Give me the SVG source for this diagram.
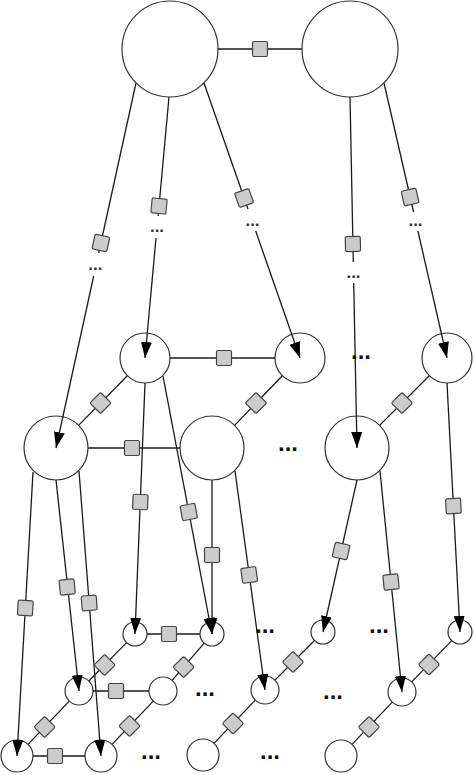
<svg xmlns="http://www.w3.org/2000/svg" xmlns:xlink="http://www.w3.org/1999/xlink" width="474" height="775" viewBox="0 0 474 775">
<style>
.n{fill:#fff;stroke:#333;stroke-width:1.2}
.e{fill:none;stroke:#1a1a1a;stroke-width:1.3}
.a{fill:none;stroke:#1a1a1a;stroke-width:1.3;marker-end:url(#arr)}
.sq{fill:#cbcbcb;stroke:#444;stroke-width:1.2}
.d{font-family:"Liberation Sans",Arial,sans-serif;font-size:24px;font-weight:bold;text-anchor:middle;fill:#111}
.ds{font-family:"Liberation Sans",Arial,sans-serif;font-size:17px;font-weight:bold;text-anchor:middle;fill:#333}
</style>
<defs>
<marker id="arr" markerUnits="userSpaceOnUse" markerWidth="16" markerHeight="12" refX="16" refY="5.5" orient="auto" viewBox="0 0 16 11"><path d="M0,0 L16,5.5 L0,11 z" fill="#000"/></marker>
<rect id="sq" class="sq" x="-7.5" y="-7.5" width="15" height="15" rx="1.5"/>
</defs>
<g id="nodes">
<g id="T1"><circle class="n" cx="170" cy="49" r="48"/></g>
<g id="T2"><circle class="n" cx="350" cy="49" r="48"/></g>
<g id="A"><circle class="n" cx="145" cy="358" r="25"/></g>
<g id="B"><circle class="n" cx="300" cy="358" r="25"/></g>
<g id="C"><circle class="n" cx="447" cy="358" r="25"/></g>
<g id="D"><circle class="n" cx="56" cy="448" r="32"/></g>
<g id="E"><circle class="n" cx="212" cy="448" r="32"/></g>
<g id="F"><circle class="n" cx="357" cy="448" r="32"/></g>
<g id="G"><circle class="n" cx="135" cy="634" r="12"/></g>
<g id="H"><circle class="n" cx="212" cy="634" r="12"/></g>
<g id="M"><circle class="n" cx="323" cy="632" r="12"/></g>
<g id="O"><circle class="n" cx="460" cy="632" r="12"/></g>
<g id="K"><circle class="n" cx="79" cy="691" r="14"/></g>
<g id="P"><circle class="n" cx="163" cy="691" r="14"/></g>
<g id="I"><circle class="n" cx="265" cy="690" r="14"/></g>
<g id="N"><circle class="n" cx="402" cy="692" r="14"/></g>
<g id="J"><circle class="n" cx="17" cy="756" r="16"/></g>
<g id="L"><circle class="n" cx="101" cy="756" r="16"/></g>
<g id="Q"><circle class="n" cx="203" cy="755" r="16"/></g>
<g id="S"><circle class="n" cx="341" cy="756" r="16"/></g>
</g>
<g id="connectors">
<!-- top -->
<path class="e" d="M218,49 L302,49"/>
<use xlink:href="#sq" href="#sq" transform="translate(260,49)"/>
<path class="a" d="M136,83 L98.7,253 M93.7,276 L56,448"/>
<use xlink:href="#sq" href="#sq" transform="translate(100.9,243) rotate(12.4)"/>
<text class="ds" x="95.4" y="269.5">...</text>
<path class="a" d="M169,97 L158.1,216 M156,238 L145,358"/>
<use xlink:href="#sq" href="#sq" transform="translate(159,206) rotate(5.3)"/>
<text class="ds" x="157" y="231.5">...</text>
<path class="a" d="M204,83 L248,209 M255.7,231 L300,358"/>
<use xlink:href="#sq" href="#sq" transform="translate(244.1,198) rotate(-19.3)"/>
<text class="ds" x="252.5" y="225.5">...</text>
<path class="a" d="M350,97 L353.3,262 M353.7,283 L357,448"/>
<use xlink:href="#sq" href="#sq" transform="translate(352.9,244) rotate(-1.1)"/>
<text class="ds" x="353.5" y="277.5">...</text>
<path class="a" d="M384,83 L413.6,212 M417.9,231 L447,358"/>
<use xlink:href="#sq" href="#sq" transform="translate(410.1,197) rotate(-12.9)"/>
<text class="ds" x="415.5" y="225.5">...</text>
<!-- middle -->
<path class="e" d="M170,358 L275,358"/>
<use xlink:href="#sq" href="#sq" transform="translate(224,358)"/>
<path class="e" d="M88,448 L180,448"/>
<use xlink:href="#sq" href="#sq" transform="translate(132,448)"/>
<path class="e" d="M127.3,375.7 L78.6,425.4"/>
<use xlink:href="#sq" href="#sq" transform="translate(100.5,403) rotate(45)"/>
<path class="e" d="M282.3,375.7 L234.6,425.4"/>
<use xlink:href="#sq" href="#sq" transform="translate(256,403) rotate(45)"/>
<path class="e" d="M429.3,375.7 L379.6,425.4"/>
<use xlink:href="#sq" href="#sq" transform="translate(402,403) rotate(45)"/>
<text class="d" x="361" y="359">...</text>
<text class="d" x="288" y="451">...</text>
<!-- to bottom -->
<path class="a" d="M145,383 L135,634"/>
<use xlink:href="#sq" href="#sq" transform="translate(140.3,502) rotate(2.3)"/>
<path class="a" d="M163,376 L212,634"/>
<use xlink:href="#sq" href="#sq" transform="translate(188.8,512) rotate(-10.8)"/>
<path class="a" d="M33,472 L17,756"/>
<use xlink:href="#sq" href="#sq" transform="translate(25.3,608) rotate(3.2)"/>
<path class="a" d="M56,480 L79,691"/>
<use xlink:href="#sq" href="#sq" transform="translate(67.2,587) rotate(-6)"/>
<path class="a" d="M79,471 L101,756"/>
<use xlink:href="#sq" href="#sq" transform="translate(89.2,603) rotate(-4.4)"/>
<path class="a" d="M212,480 L212,634"/>
<use xlink:href="#sq" href="#sq" transform="translate(212,555)"/>
<path class="a" d="M235,471 L265,690"/>
<use xlink:href="#sq" href="#sq" transform="translate(249.2,575) rotate(-7.8)"/>
<path class="a" d="M357,480 L323,632"/>
<use xlink:href="#sq" href="#sq" transform="translate(341.1,551) rotate(12.6)"/>
<path class="a" d="M380,471 L402,692"/>
<use xlink:href="#sq" href="#sq" transform="translate(391,582) rotate(-5.7)"/>
<path class="a" d="M447,383 L460,632"/>
<use xlink:href="#sq" href="#sq" transform="translate(453.4,506) rotate(-3)"/>
<!-- bottom -->
<path class="e" d="M147,634 L200,634"/>
<use xlink:href="#sq" href="#sq" transform="translate(169,634)"/>
<path class="e" d="M93,691 L149,691"/>
<use xlink:href="#sq" href="#sq" transform="translate(116,691)"/>
<path class="e" d="M33,756 L85,756"/>
<use xlink:href="#sq" href="#sq" transform="translate(55,756)"/>
<path class="e" d="M126.6,642.6 L88.8,681"/>
<use xlink:href="#sq" href="#sq" transform="translate(104.6,665) rotate(45)"/>
<path class="e" d="M204.2,643.1 L172.1,680.4"/>
<use xlink:href="#sq" href="#sq" transform="translate(183.6,667) rotate(45)"/>
<path class="e" d="M69.3,701.1 L28,744.4"/>
<use xlink:href="#sq" href="#sq" transform="translate(44.6,727) rotate(45)"/>
<path class="e" d="M153.3,701.1 L112,744.4"/>
<use xlink:href="#sq" href="#sq" transform="translate(129.5,726) rotate(45)"/>
<path class="e" d="M314.5,640.5 L274.9,680.1"/>
<use xlink:href="#sq" href="#sq" transform="translate(293,662) rotate(45)"/>
<path class="e" d="M255.3,700.1 L214,743.4"/>
<use xlink:href="#sq" href="#sq" transform="translate(233,723.5) rotate(45)"/>
<path class="e" d="M451.7,640.6 L411.7,681.9"/>
<use xlink:href="#sq" href="#sq" transform="translate(429,664.5) rotate(45)"/>
<path class="e" d="M392.3,702.1 L352,744.4"/>
<use xlink:href="#sq" href="#sq" transform="translate(369,727) rotate(45)"/>
<text class="d" x="265" y="633">...</text>
<text class="d" x="379" y="633">...</text>
<text class="d" x="205" y="696">...</text>
<text class="d" x="333" y="699">...</text>
<text class="d" x="151" y="759">...</text>
<text class="d" x="270" y="759">...</text>
</g>
</svg>
